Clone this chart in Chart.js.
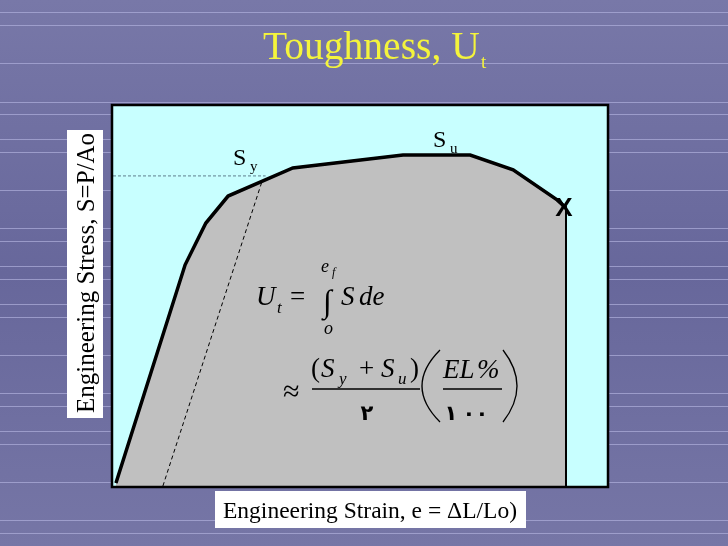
<!DOCTYPE html>
<html lang="en">
<head>
<meta charset="UTF-8">
<title>Toughness</title>
<script src="https://cdn.jsdelivr.net/npm/chart.js@4.4.0/dist/chart.umd.min.js"></script>
<style>
  html, body { margin: 0; padding: 0; background: #6f6fa1; }
  .chart { width: 728px; height: 546px; }
</style>
</head>
<body>
<div class="chart"><canvas id="myChart"></canvas></div>

<script>
// stress-strain curve, arbitrary units (0-100 on both axes)
const strain = [0.6, 14.6, 18.8, 23.3, 36.4, 58.7, 72.3, 81.0, 89.9, 91.7, 91.7];
const stress = [0.8, 58.2, 69.2, 76.3, 83.7, 87.1, 87.1, 83.2, 75.3, 73.2, 0];

// 0.2% offset line and yield stress level
const offsetStrain = [10.1, 30.2];
const offsetStress = [0, 80.3];
const yieldStrain = [0, 30.9];
const yieldStress = [81.6, 81.6];

// where Sy / Su / fracture labels sit (data units)
const labelNames = ['Sy', 'Su', 'X'];
const labelStrain = [24.3, 64.8, 91.3];
const labelStress = [84.5, 89.2, 73.2];

const SERIF = '"Liberation Serif", "Times New Roman", serif';
const stripes = [12, 25, 63, 102, 114, 139, 152, 190, 228, 241, 266, 279, 304, 317, 355, 393, 406, 431, 444, 482, 520, 533];

function pts(xs, ys) { return xs.map((x, i) => ({ x: x, y: ys[i] })); }

const slide = {
  id: 'slide',
  beforeDraw(chart) {
    const ctx = chart.ctx, w = chart.width, h = chart.height, ca = chart.chartArea;
    ctx.save();
    const g = ctx.createLinearGradient(0, 0, 0, h);
    g.addColorStop(0, '#7878a8');
    g.addColorStop(0.5, '#67679b');
    g.addColorStop(1, '#7676a6');
    ctx.fillStyle = g;
    ctx.fillRect(0, 0, w, h);
    ctx.fillStyle = 'rgba(175,175,220,0.7)';
    stripes.forEach(y => ctx.fillRect(0, y, w, 1));
    // plot panel
    ctx.fillStyle = '#c8ffff';
    ctx.fillRect(ca.left - 1, ca.top - 1, ca.right - ca.left + 2, ca.bottom - ca.top + 2);
    ctx.restore();
  },
  afterDatasetsDraw(chart) {
    const ctx = chart.ctx, ca = chart.chartArea;
    const xs = chart.scales.x, ys = chart.scales.y;
    ctx.save();
    ctx.strokeStyle = '#000';
    ctx.lineWidth = 2.5;
    ctx.strokeRect(ca.left - 1, ca.top - 1, ca.right - ca.left + 2, ca.bottom - ca.top + 2);

    // title
    ctx.fillStyle = '#f4f43c';
    ctx.textBaseline = 'alphabetic';
    ctx.font = '39.5px ' + SERIF;
    ctx.fillText('Toughness, U', 263, 59);
    ctx.font = '19px ' + SERIF;
    ctx.fillText('t', 481, 68);

    // axis labels in white boxes
    ctx.fillStyle = '#fff';
    ctx.fillRect(67, 130, 36, 288);
    ctx.fillRect(215, 491, 311, 37);
    ctx.fillStyle = '#000';
    ctx.textAlign = 'center';
    ctx.font = '23.5px ' + SERIF;
    ctx.fillText('Engineering Strain, e = \u0394L/Lo)', 370, 518);
    ctx.save();
    ctx.translate(94, 273);
    ctx.rotate(-Math.PI / 2);
    ctx.font = '25px ' + SERIF;
    ctx.fillText('Engineering Stress, S=P/Ao', 0, 0);
    ctx.restore();

    // Sy, Su, X labels
    ctx.textAlign = 'left';
    labelNames.forEach((name, i) => {
      const px = xs.getPixelForValue(labelStrain[i]);
      const py = ys.getPixelForValue(labelStress[i]);
      if (name === 'X') {
        ctx.textAlign = 'center';
        ctx.textBaseline = 'middle';
        ctx.font = 'bold 26px "Liberation Sans", Arial, sans-serif';
        ctx.fillText('X', px, py + 1);
        ctx.textAlign = 'left';
        ctx.textBaseline = 'alphabetic';
      } else {
        ctx.font = '24px ' + SERIF;
        ctx.fillText('S', px, py);
        ctx.font = '15px ' + SERIF;
        ctx.fillText(name[1], px + 17, py + 6);
      }
    });

    // formula
    const it = s => 'italic ' + s + 'px ' + SERIF;
    const rm = s => s + 'px ' + SERIF;
    const parts = [
      ['U', 256, 305, it(27)], ['t', 277, 313, it(17)], ['=', 290, 305, rm(27)],
      ['e', 321, 272, it(18)], ['f', 332, 276, it(12)], ['\u222B', 323, 312, rm(32)],
      ['o', 324, 334, it(18)], ['S', 341, 305, it(27)], ['de', 359, 305, it(27)],
      ['\u2248', 283, 401, rm(30)],
      ['(', 311, 377, rm(27)], ['S', 321, 377, it(27)], ['y', 339, 384, it(17)],
      ['+', 359, 377, rm(27)], ['S', 381, 377, it(27)], ['u', 398, 384, it(17)],
      [')', 410, 377, rm(27)],
      ['EL', 443, 378, it(27)], ['%', 477, 378, it(27)]
    ];
    parts.forEach(p => { ctx.font = p[3]; ctx.fillText(p[0], p[1], p[2]); });

    ctx.lineWidth = 1.3;
    ctx.beginPath();
    ctx.moveTo(312, 389); ctx.lineTo(420, 389);
    ctx.moveTo(443, 389); ctx.lineTo(502, 389);
    ctx.stroke();
    ctx.beginPath();
    ctx.moveTo(440, 350); ctx.quadraticCurveTo(404, 386, 440, 422);
    ctx.moveTo(503, 350); ctx.quadraticCurveTo(531, 386, 503, 422);
    ctx.stroke();

    // denominators in Arabic-Indic digits
    ctx.textAlign = 'center';
    ctx.font = 'bold 21px "DejaVu Sans", sans-serif';
    ctx.fillText('\u0662', 367, 420);
    ctx.fillText('\u0661', 451, 420);
    ctx.fillText('\u0660', 469, 420);
    ctx.fillText('\u0660', 482, 420);
    ctx.restore();
  }
};

const ctx = document.getElementById('myChart').getContext('2d');
const chart = new Chart(ctx, {
  type: 'line',
  data: {
    datasets: [
      {
        // thick curve up to fracture
        data: pts(strain.slice(0, -1), stress.slice(0, -1)),
        borderColor: '#000',
        borderWidth: 3.5,
        fill: false,
        order: 1
      },
      {
        data: pts(offsetStrain, offsetStress),
        borderColor: '#000',
        borderWidth: 1,
        borderDash: [4, 3],
        fill: false,
        order: 2
      },
      {
        data: pts(yieldStrain, yieldStress),
        borderColor: '#5f7f8f',
        borderWidth: 1,
        borderDash: [3, 2],
        fill: false,
        order: 2
      },
      {
        // area under the curve (toughness)
        data: pts(strain, stress),
        borderColor: '#000',
        borderWidth: 2,
        backgroundColor: '#c0c0c0',
        fill: 'origin',
        order: 3
      }
    ]
  },
  options: {
    responsive: true,
    maintainAspectRatio: false,
    animation: false,
    layout: { padding: { left: 113, right: 121, top: 106, bottom: 60 } },
    elements: { point: { radius: 0 }, line: { tension: 0 } },
    scales: {
      x: { type: 'linear', min: 0, max: 100, display: false },
      y: { type: 'linear', min: 0, max: 100, display: false }
    },
    plugins: { legend: { display: false }, tooltip: { enabled: false } }
  },
  plugins: [slide]
});
</script>
</body>
</html>
